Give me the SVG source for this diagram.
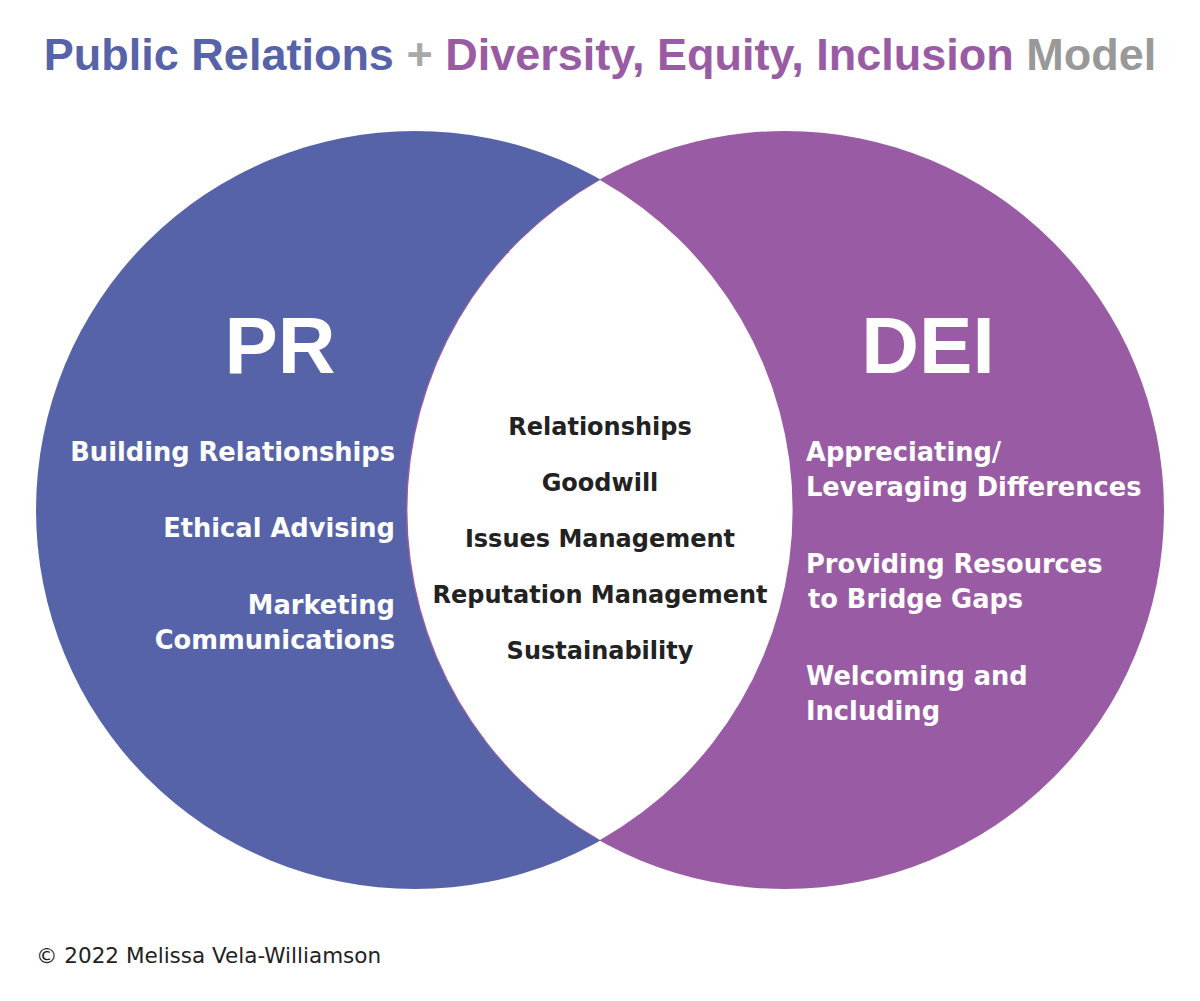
<svg xmlns="http://www.w3.org/2000/svg" width="1200" height="1001" viewBox="0 0 1200 1001">
<style>
text{font-family:"DejaVu Sans","Liberation Sans",sans-serif;font-weight:bold}
.w{fill:#fff;font-size:25.7px}
.c{fill:#222;font-size:24px;text-anchor:middle}
.big{fill:#fff;font-size:80px;text-anchor:middle;font-family:"Liberation Sans",Arial,sans-serif}
</style>
<rect width="1200" height="1001" fill="#fff"/>
<text x="600" y="70" text-anchor="middle" font-size="45" style="font-family:'Liberation Sans',Arial,sans-serif"><tspan fill="#5763a8">Public Relations </tspan><tspan fill="#a8a8a8">+ </tspan><tspan fill="#995ca4">Diversity, Equity, Inclusion </tspan><tspan fill="#999">Model</tspan></text>
<g id="pr">
<circle cx="415" cy="510" r="379" fill="#5763a8"/>
</g>
<g id="dei">
<circle cx="785" cy="510" r="379" fill="#995ca4"/>
</g>
<g id="overlap">
<path d="M600,180 A379,379 0 0 0 600,840 A379,379 0 0 0 600,180 Z" fill="#fff"/>
</g>
<g id="pr-text">
<text class="big" x="280" y="373">PR</text>
<text class="w" x="395" y="461" text-anchor="end">Building Relationships</text>
<text class="w" x="395" y="537" text-anchor="end">Ethical Advising</text>
<text class="w" x="395" y="614" text-anchor="end">Marketing</text>
<text class="w" x="395" y="649" text-anchor="end">Communications</text>
</g>
<g id="dei-text">
<text class="big" x="928" y="373">DEI</text>
<text class="w" x="806" y="461">Appreciating/</text>
<text class="w" x="806" y="496">Leveraging Differences</text>
<text class="w" x="806" y="573">Providing Resources</text>
<text class="w" x="808" y="608">to Bridge Gaps</text>
<text class="w" x="806" y="685">Welcoming and</text>
<text class="w" x="806" y="720">Including</text>
</g>
<g id="center-text">
<text class="c" x="600" y="435">Relationships</text>
<text class="c" x="600" y="491">Goodwill</text>
<text class="c" x="600" y="547">Issues Management</text>
<text class="c" x="600" y="603">Reputation Management</text>
<text class="c" x="600" y="659">Sustainability</text>
</g>
<g id="connectors"></g>
<text x="36" y="963" font-size="21.5" fill="#222" style="font-weight:normal">© 2022 Melissa Vela-Williamson</text>
</svg>
